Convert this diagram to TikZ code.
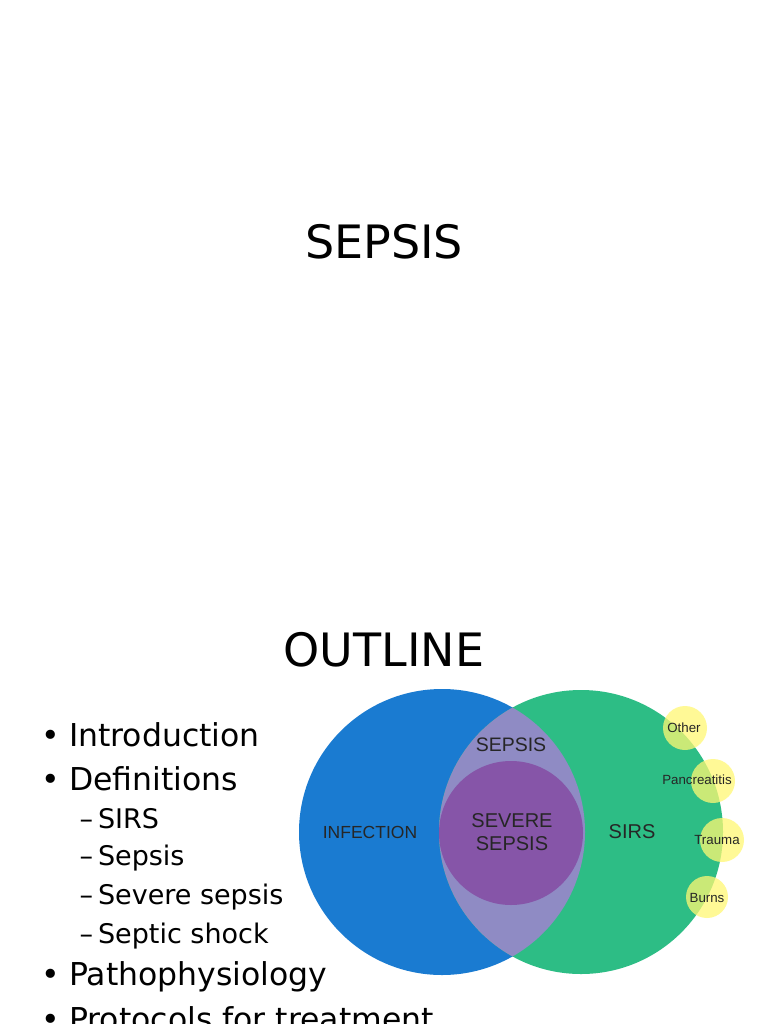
\documentclass[tikz,border=0pt]{standalone}
\usepackage{fontspec}
\setmainfont{DejaVu Sans}
\newfontfamily\arial{Liberation Sans}
\begin{document}
\begin{tikzpicture}[x=1pt,y=-1pt,
  title/.style={font=\fontsize{46}{50}\selectfont},
  item/.style={anchor=west,font=\fontsize{31.5}{34}\selectfont},
  subitem/.style={anchor=west,font=\fontsize{27}{30}\selectfont},
  vlab/.style={font=\arial\fontsize{19.5}{22}\selectfont,text=black!85,align=center},
  slab/.style={font=\arial\fontsize{13.3}{14}\selectfont,text=black!85},
  ybub/.style={fill=yellow!55!white,fill opacity=0.75}]
\useasboundingbox (0,0) rectangle (768,1024);
\fill[white] (0,0) rectangle (768,1024);
\node[title] (t1) at (384,242) {SEPSIS};
\node[title] (t2) at (384,650) {OUTLINE};
\definecolor{vblue}{HTML}{1A7BD1}
\definecolor{vgreen}{HTML}{2DBD85}
\definecolor{vlens}{HTML}{8F8BC4}
\definecolor{vpurple}{HTML}{8655A8}
\fill[vblue] (442,832) circle (143);
\fill[vgreen] (581,832) circle (142);
\begin{scope}
\clip (581,832) circle (142);
\fill[vlens] (442,832) circle (143);
\end{scope}
\fill[vpurple] (511,833) circle (72);
\fill[ybub] (685,728) circle (22);
\fill[ybub] (713,781) circle (22);
\fill[ybub] (722,840) circle (22);
\fill[ybub] (707,897) circle (21);
\node[vlab] (sep) at (511,745) {SEPSIS};
\node[vlab,font=\arial\fontsize{17.5}{19}\selectfont] (inf) at (370,832) {INFECTION};
\node[vlab,font=\arial\fontsize{20}{23}\selectfont] (sev) at (512,832) {SEVERE\\SEPSIS};
\node[vlab,font=\arial\fontsize{20}{21}\selectfont] (sirs) at (632,832) {SIRS};
\node[slab] (o) at (684,728) {Other};
\node[slab] (p) at (697,780) {Pancreatitis};
\node[slab] (tr) at (717,840) {Trauma};
\node[slab] (b) at (707,898) {Burns};
\node[item] (i1) at (38,735) {•\hspace{9pt}Introduction};
\node[item] (i2) at (38,779) {•\hspace{9pt}Definitions};
\node[subitem] (s1) at (76,819) {–\hspace{5pt}SIRS};
\node[subitem] (s2) at (76,858) {–\hspace{5pt}Sepsis};
\node[subitem] (s3) at (76,897) {–\hspace{5pt}Severe sepsis};
\node[subitem] (s4) at (76,936) {–\hspace{5pt}Septic shock};
\node[item] (i3) at (38,977) {•\hspace{9pt}Pathophysiology};
\node[item] (i4) at (38,1019) {•\hspace{9pt}Protocols for treatment};
\end{tikzpicture}
\end{document}
